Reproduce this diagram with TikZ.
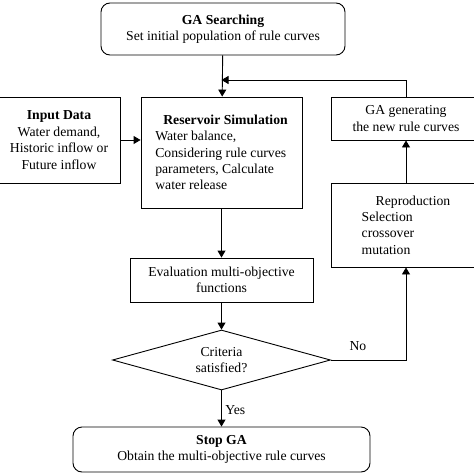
\documentclass[tikz,border=0pt]{standalone}
\usepackage{fontspec}
\setmainfont{Liberation Serif}
\usetikzlibrary{arrows.meta,positioning,shapes.geometric}
\tikzset{%
	block/.style    = {draw, rectangle, inner sep=2pt}, % Process
	startstop/.style = {draw, rectangle, rounded corners=9pt, align=center}, % Start / stop
	decision/.style = {draw, diamond, inner sep=0pt, aspect=3.6, align=center}, % Test
	waypoint/.style = {coordinate}, % Joint
}

\begin{document}
\begin{tikzpicture}[x=1pt, y=-1pt, line width=0.9pt, >={Triangle[length=7pt,width=8pt]},
		font=\fontsize{13.7}{16.4}\selectfont]
		\useasboundingbox (0,0) rectangle (474,474);
		\node[startstop, minimum width=244pt, minimum height=52pt] (search) at (223,29)
			{\textbf{GA Searching}\\Set initial population of rule curves};
		\node[block, align=center, minimum width=122pt, minimum height=86pt] (input) at (59,140)
			{\textbf{Input Data}\\Water demand,\\Historic inflow or\\Future inflow};
		\node[block, align=left, minimum width=161pt, minimum height=111pt] (resv) at (221.5,152.5)
			{\hspace*{8pt}\textbf{Reservoir Simulation}\\Water balance,\\Considering rule curves\\parameters, Calculate\\water release};
		\node[block, align=center, minimum width=150pt, minimum height=43pt] (gen) at (406,118.5)
			{GA generating\\the new rule curves};
		\node[block, align=left, minimum width=150pt, minimum height=84pt] (repro) at (406,225)
			{\hspace*{14pt}Reproduction\\Selection\\crossover\\mutation};
		\node[block, align=center, minimum width=183pt, minimum height=44pt] (eval) at (221.5,280)
			{Evaluation multi-objective\\functions};
		\node[decision, minimum width=218pt, minimum height=60pt] (crit) at (221.5,360)
			{Criteria\\satisfied?};
		\node[startstop, minimum width=297pt, minimum height=45pt] (stop) at (221.5,449.5)
			{\textbf{Stop GA}\\Obtain the multi-objective rule curves};
		\node[waypoint] (join) at (221.5,80) {};
		\draw[->] (search) -- (resv);
		\draw[->] (gen.north) |- (join);
		\draw[->] (input.east) -- (input.east -| resv.west);
		\draw[->] (resv) -- (eval);
		\draw[->] (eval) -- (crit);
		\draw[->] (repro) -- (gen);
		\draw[->] (crit.east) -| node[above=6pt,pos=0.18] {No} (repro.south);
		\draw[->] (crit) -- node[right,pos=0.55] {Yes} (stop);
\end{tikzpicture}
\end{document}
